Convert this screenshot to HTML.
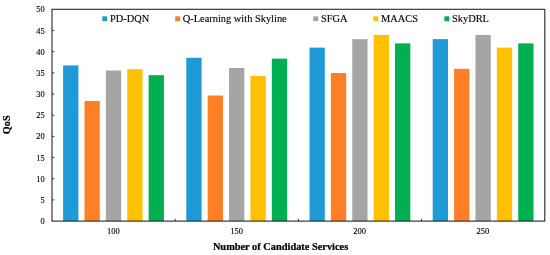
<!DOCTYPE html><html><head><meta charset="utf-8"><title>Chart</title><style>html,body{margin:0;padding:0;background:#fff}svg{display:block}text{font-family:"Liberation Serif","DejaVu Serif",serif;fill:#000;stroke:#000;stroke-width:0.12px}text[font-weight]{stroke-width:0.22px}</style></head><body>
<svg width="550" height="255" viewBox="0 0 550 255">
<rect width="550" height="255" fill="#fff"/>
<rect x="63.10" y="65.42" width="15.3" height="155.68" fill="#1E9AD7"/>
<rect x="84.48" y="101.00" width="15.3" height="120.10" fill="#FF7F27"/>
<rect x="105.86" y="70.50" width="15.3" height="150.60" fill="#A5A5A5"/>
<rect x="127.24" y="69.23" width="15.3" height="151.87" fill="#FFC000"/>
<rect x="148.62" y="75.16" width="15.3" height="145.94" fill="#00B050"/>
<rect x="186.30" y="57.79" width="15.3" height="163.31" fill="#1E9AD7"/>
<rect x="207.68" y="95.49" width="15.3" height="125.61" fill="#FF7F27"/>
<rect x="229.06" y="67.96" width="15.3" height="153.14" fill="#A5A5A5"/>
<rect x="250.44" y="76.01" width="15.3" height="145.09" fill="#FFC000"/>
<rect x="271.82" y="58.64" width="15.3" height="162.46" fill="#00B050"/>
<rect x="309.50" y="47.62" width="15.3" height="173.48" fill="#1E9AD7"/>
<rect x="330.88" y="73.04" width="15.3" height="148.06" fill="#FF7F27"/>
<rect x="352.26" y="39.15" width="15.3" height="181.95" fill="#A5A5A5"/>
<rect x="373.64" y="34.92" width="15.3" height="186.18" fill="#FFC000"/>
<rect x="395.02" y="43.39" width="15.3" height="177.71" fill="#00B050"/>
<rect x="432.70" y="39.15" width="15.3" height="181.95" fill="#1E9AD7"/>
<rect x="454.08" y="68.80" width="15.3" height="152.30" fill="#FF7F27"/>
<rect x="475.46" y="34.92" width="15.3" height="186.18" fill="#A5A5A5"/>
<rect x="496.84" y="47.62" width="15.3" height="173.48" fill="#FFC000"/>
<rect x="518.22" y="43.39" width="15.3" height="177.71" fill="#00B050"/>
<rect x="52.0" y="9.3" width="492.80" height="211.80" fill="none" stroke="#262626" stroke-width="1.1"/>
<text x="44.6" y="224.15" font-size="8.4" text-anchor="end">0</text>
<line x1="52.0" y1="199.92" x2="54.3" y2="199.92" stroke="#262626" stroke-width="0.9"/>
<text x="44.6" y="202.97" font-size="8.4" text-anchor="end">5</text>
<line x1="52.0" y1="178.74" x2="54.3" y2="178.74" stroke="#262626" stroke-width="0.9"/>
<text x="44.6" y="181.79" font-size="8.4" text-anchor="end">10</text>
<line x1="52.0" y1="157.56" x2="54.3" y2="157.56" stroke="#262626" stroke-width="0.9"/>
<text x="44.6" y="160.61" font-size="8.4" text-anchor="end">15</text>
<line x1="52.0" y1="136.38" x2="54.3" y2="136.38" stroke="#262626" stroke-width="0.9"/>
<text x="44.6" y="139.43" font-size="8.4" text-anchor="end">20</text>
<line x1="52.0" y1="115.20" x2="54.3" y2="115.20" stroke="#262626" stroke-width="0.9"/>
<text x="44.6" y="118.25" font-size="8.4" text-anchor="end">25</text>
<line x1="52.0" y1="94.02" x2="54.3" y2="94.02" stroke="#262626" stroke-width="0.9"/>
<text x="44.6" y="97.07" font-size="8.4" text-anchor="end">30</text>
<line x1="52.0" y1="72.84" x2="54.3" y2="72.84" stroke="#262626" stroke-width="0.9"/>
<text x="44.6" y="75.89" font-size="8.4" text-anchor="end">35</text>
<line x1="52.0" y1="51.66" x2="54.3" y2="51.66" stroke="#262626" stroke-width="0.9"/>
<text x="44.6" y="54.71" font-size="8.4" text-anchor="end">40</text>
<line x1="52.0" y1="30.48" x2="54.3" y2="30.48" stroke="#262626" stroke-width="0.9"/>
<text x="44.6" y="33.53" font-size="8.4" text-anchor="end">45</text>
<text x="44.6" y="12.35" font-size="8.4" text-anchor="end">50</text>
<line x1="175.20" y1="221.1" x2="175.20" y2="218.79999999999998" stroke="#262626" stroke-width="0.9"/>
<line x1="298.40" y1="221.1" x2="298.40" y2="218.79999999999998" stroke="#262626" stroke-width="0.9"/>
<line x1="421.60" y1="221.1" x2="421.60" y2="218.79999999999998" stroke="#262626" stroke-width="0.9"/>
<text x="113.30" y="234.35" font-size="8.5" text-anchor="middle">100</text>
<text x="236.50" y="234.35" font-size="8.5" text-anchor="middle">150</text>
<text x="359.70" y="234.35" font-size="8.5" text-anchor="middle">200</text>
<text x="482.90" y="234.35" font-size="8.5" text-anchor="middle">250</text>
<rect x="102.3" y="16.3" width="4.9" height="4.9" fill="#1E9AD7"/>
<text x="109.9" y="21.8" font-size="10.4">PD-DQN</text>
<rect x="175.2" y="16.3" width="4.9" height="4.9" fill="#FF7F27"/>
<text x="182.8" y="21.8" font-size="10.4">Q-Learning with Skyline</text>
<rect x="313.3" y="16.3" width="4.9" height="4.9" fill="#A5A5A5"/>
<text x="320.9" y="21.8" font-size="10.4">SFGA</text>
<rect x="373.4" y="16.3" width="4.9" height="4.9" fill="#FFC000"/>
<text x="381.0" y="21.8" font-size="10.4">MAACS</text>
<rect x="444.4" y="16.3" width="4.9" height="4.9" fill="#00B050"/>
<text x="452.0" y="21.8" font-size="10.4">SkyDRL</text>
<text x="212.9" y="249.8" font-size="10.37" font-weight="bold">Number of Candidate Services</text>
<text transform="translate(9.9,124.8) rotate(-90)" font-size="10.3" font-weight="bold" text-anchor="middle">QoS</text>
</svg></body></html>
